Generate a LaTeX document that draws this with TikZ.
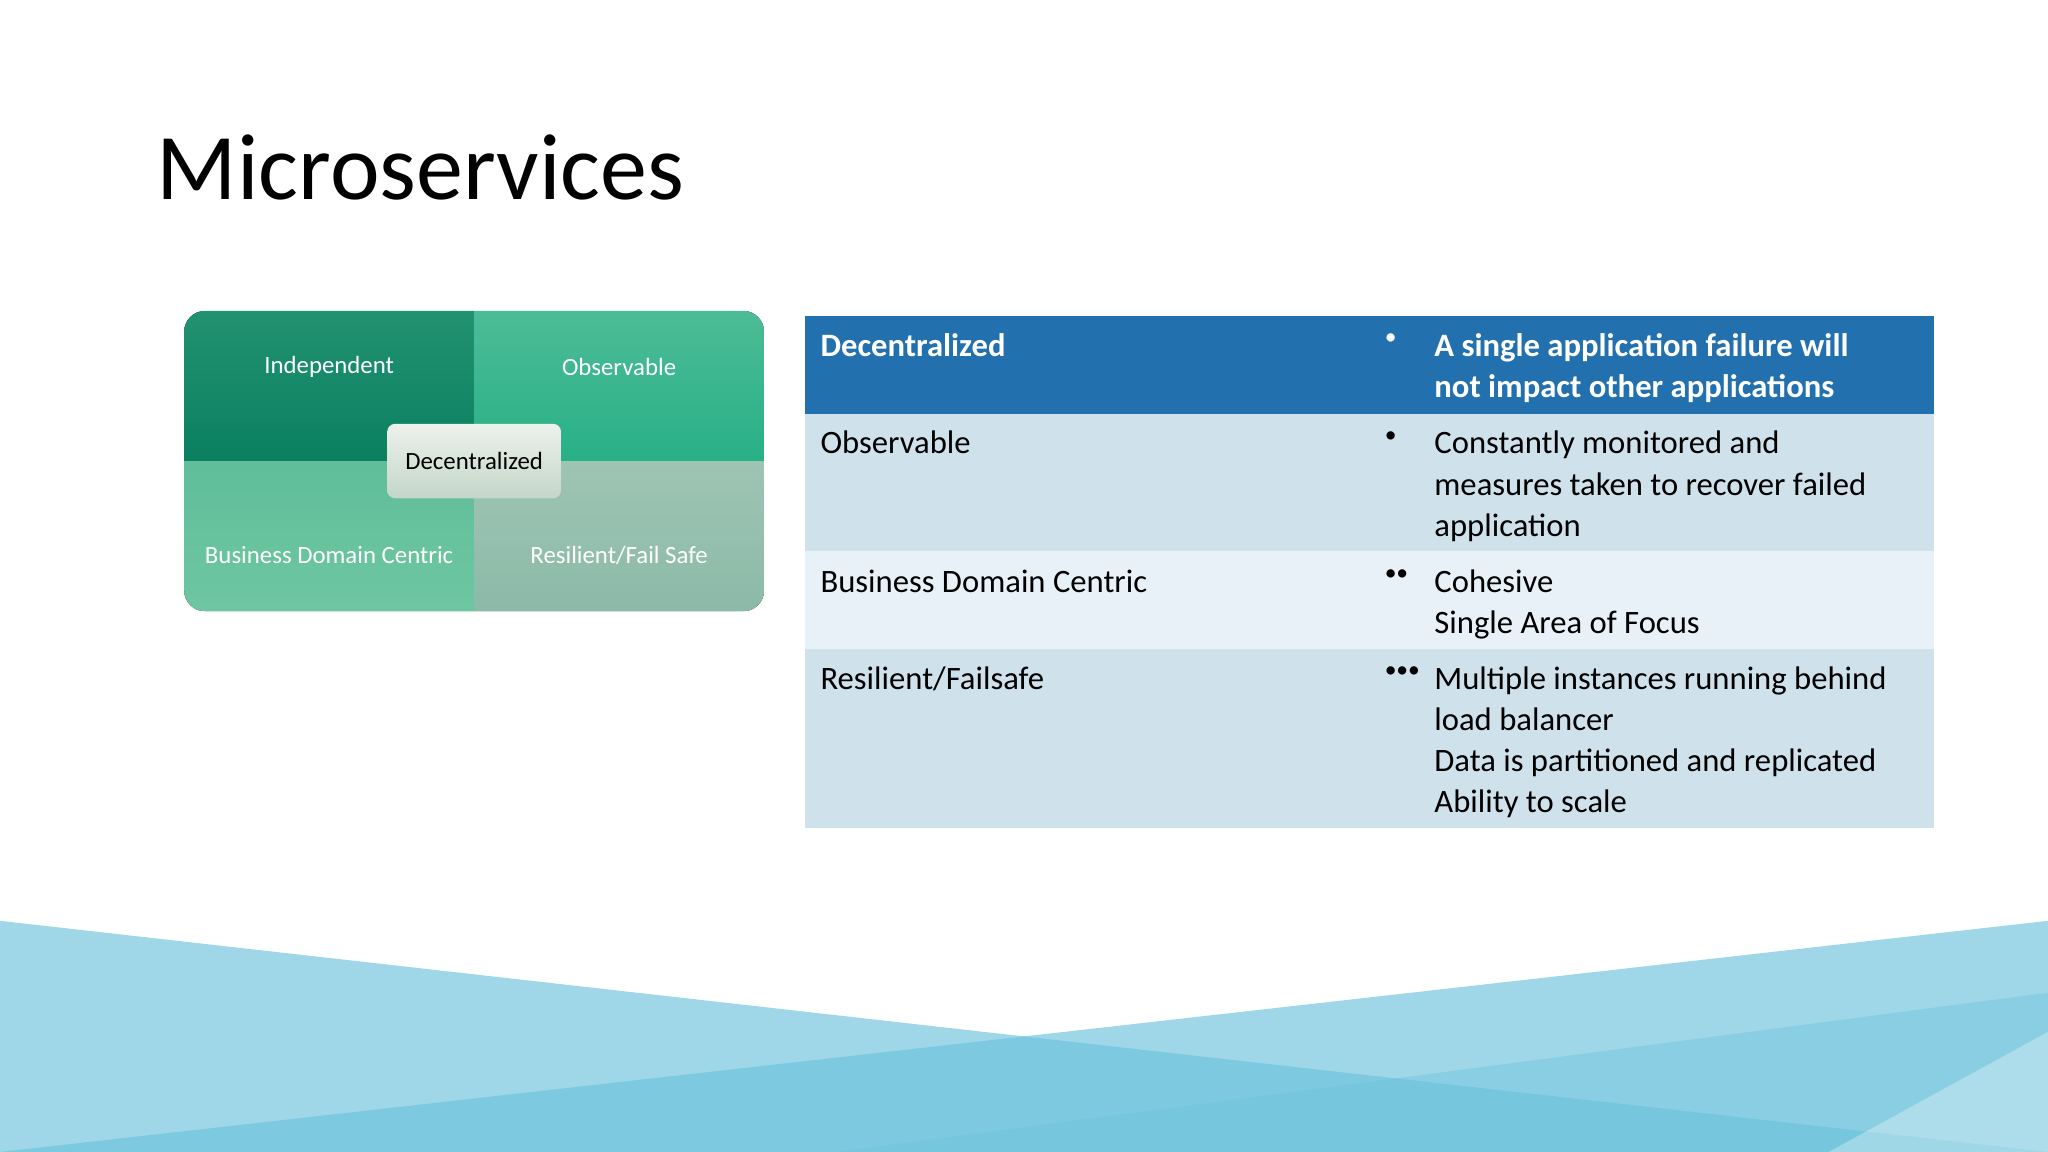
\documentclass[tikz,border=0pt]{standalone}
\usepackage{fontspec}
\setmainfont{Carlito}
\usetikzlibrary{positioning}
\definecolor{hdr}{HTML}{2270AE}
\definecolor{rowa}{HTML}{CFE2EC}
\definecolor{rowb}{HTML}{E8F1F7}
\definecolor{wave}{HTML}{6CC2DC}
\tikzset{
 cell/.style={font=\fontsize{25}{31.5}\selectfont,anchor=north west,align=left,inner sep=0pt},
 hcell/.style={cell,text=white,font=\bfseries\fontsize{25}{31.5}\selectfont},
 bul/.style={font=\fontsize{18}{31.5}\selectfont,anchor=north west,inner sep=0pt},
 qlab/.style={font=\fontsize{19}{22}\selectfont,text=white},
}
\begin{document}
\begin{tikzpicture}[x=1pt,y=-1pt]
\useasboundingbox[fill=white] (0,0) rectangle (1568,882);
% background waves
\fill[wave,opacity=0.65] (0,705) -- (1568,882) -- (0,882) -- cycle;
\fill[wave,opacity=0.65] (1568,705) -- (0,882) -- (1568,882) -- cycle;
\fill[wave,opacity=0.4] (640,882) -- (1568,760) -- (1568,882) -- cycle;
\fill[white,opacity=0.3] (1400,882) -- (1568,790) -- (1568,882) -- cycle;
% title
\node[font=\fontsize{72}{80}\selectfont,anchor=base west,inner sep=0pt] (title) at (120,153) {Microservices};
% quadrants
\begin{scope}
\clip[rounded corners=16] (141,238) rectangle (585,468);
\fill[top color={rgb,255:red,34;green,146;blue,112},bottom color={rgb,255:red,10;green,128;blue,96}] (141,238) rectangle (363,353);
\fill[top color={rgb,255:red,76;green,188;blue,150},bottom color={rgb,255:red,40;green,176;blue,134}] (363,238) rectangle (585,353);
\fill[top color={rgb,255:red,96;green,190;blue,154},bottom color={rgb,255:red,110;green,198;blue,162}] (141,353) rectangle (363,468);
\fill[top color={rgb,255:red,158;green,196;blue,180},bottom color={rgb,255:red,140;green,186;blue,168}] (363,353) rectangle (585,468);
\end{scope}
\node[qlab] (q1) at (252,281) {Independent};
\node[qlab] (q2) at (474,281) {Observable};
\node[qlab] (q3) at (252,425) {Business Domain Centric};
\node[qlab] (q4) at (474,425) {Resilient/Fail Safe};
\node[rounded corners=6,minimum width=133,minimum height=57,top color={rgb,255:red,236;green,242;blue,236},bottom color={rgb,255:red,196;green,214;blue,200},font=\fontsize{19}{22}\selectfont] (c) at (363,353) {Decentralized};
% table
\fill[hdr] (616,242) rectangle (1481,317);
\fill[rowa] (616,317) rectangle (1481,422);
\fill[rowb] (616,422) rectangle (1481,497);
\fill[rowa] (616,497) rectangle (1481,634);
\node[hcell] (h1) at (628,255) {Decentralized};
\node[bul,text=white] (hb) at (1060,255) {•};
\node[hcell] (h2) at (1098,255) {A single application failure will\\not impact other applications};
\node[cell] (r1) at (628,330) {Observable};
\node[bul] (b1) at (1060,330) {•};
\node[cell] (r1b) at (1098,330) {Constantly monitored and\\measures taken to recover failed\\application};
\node[cell] (r2) at (628,436) {Business Domain Centric};
\node[bul] (b2) at (1060,436) {•\\•};
\node[cell] (r2b) at (1098,436) {Cohesive\\Single Area of Focus};
\node[cell] (r3) at (628,510) {Resilient/Failsafe};
\node[bul] (b3) at (1060,510) {•\\\\•\\•};
\node[cell] (r3b) at (1098,510) {Multiple instances running behind\\load balancer\\Data is partitioned and replicated\\Ability to scale};
\end{tikzpicture}
\end{document}
